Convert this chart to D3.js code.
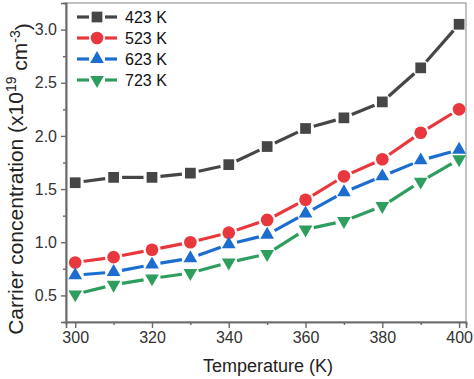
<!DOCTYPE html>
<html>
<head>
<meta charset="utf-8">
<script src="https://cdn.jsdelivr.net/npm/d3@7"></script>
<style>
  body { margin: 0; background: #fff; }
  text { font-family: "Liberation Sans", Arial, sans-serif; }
</style>
</head>
<body>
<div id="chart"></div>
<script>
// temperatures on the x axis
var temps = [300, 310, 320, 330, 340, 350, 360, 370, 380, 390, 400];

// carrier concentration (x10^19 cm^-3), one array per annealing temperature
var n423 = [1.56, 1.61, 1.61, 1.65, 1.73, 1.90, 2.07, 2.17, 2.32, 2.64, 3.05];
var n523 = [0.81, 0.86, 0.93, 1.00, 1.09, 1.21, 1.40, 1.62, 1.78, 2.03, 2.25];
var n623 = [0.69, 0.72, 0.79, 0.85, 0.98, 1.07, 1.27, 1.47, 1.62, 1.77, 1.87];
var n723 = [0.51, 0.60, 0.66, 0.71, 0.81, 0.89, 1.12, 1.20, 1.34, 1.57, 1.78];

var seriesNames = ["423 K", "523 K", "623 K", "723 K"];
var xTicks = [300, 320, 340, 360, 380, 400];
var yTicks = [0.5, 1.0, 1.5, 2.0, 2.5, 3.0];

var svgWidth = 474;
var svgHeight = 379;

var margin = { top: 3, right: 8, bottom: 57, left: 66 };
var width = svgWidth - margin.left - margin.right;
var height = svgHeight - margin.top - margin.bottom;

var svg = d3.select("#chart")
  .append("svg")
  .attr("width", svgWidth)
  .attr("height", svgHeight);

var chartGroup = svg.append("g")
  .attr("transform", `translate(${margin.left}, ${margin.top})`);

var xScale = d3.scaleLinear().domain([297.6, 401.8]).range([0, width]);
var yScale = d3.scaleLinear().domain([0.25, 3.25]).range([height, 0]);

var series = [
  { name: seriesNames[0], values: n423, color: "#464646", symbol: d3.symbolSquare, size: 115, rot: 0 },
  { name: seriesNames[1], values: n523, color: "#e8383d", symbol: d3.symbolCircle, size: 125, rot: 0 },
  { name: seriesNames[2], values: n623, color: "#1c6dd0", symbol: d3.symbolTriangle, size: 82, rot: 0 },
  { name: seriesNames[3], values: n723, color: "#2e9e5e", symbol: d3.symbolTriangle, size: 82, rot: 180 }
];

// frame (top / right)
chartGroup.append("rect")
  .attr("x", 0).attr("y", 0)
  .attr("width", width).attr("height", height)
  .attr("fill", "none")
  .attr("stroke", "#9a9a9a")
  .attr("stroke-width", 1.2);

// axes
var bottomAxis = d3.axisBottom(xScale).tickValues(xTicks).tickSize(6).tickPadding(4).tickFormat(d3.format("d"));
var leftAxis = d3.axisLeft(yScale).tickValues(yTicks).tickSize(5).tickPadding(4).tickFormat(d3.format(".1f"));

var minorX = d3.axisBottom(xScale).tickValues([310, 330, 350, 370, 390]).tickSize(3).tickFormat("");
var minorY = d3.axisLeft(yScale).tickValues([0.75, 1.25, 1.75, 2.25, 2.75]).tickSize(3).tickFormat("");

function styleAxis(g) {
  g.select(".domain").attr("stroke", "#6a6a6a").attr("stroke-width", 1.6);
  g.selectAll(".tick line").attr("stroke", "#6a6a6a").attr("stroke-width", 1.4);
  g.selectAll(".tick text").attr("fill", "#333").attr("font-size", "16px");
}

chartGroup.append("g").attr("transform", `translate(0, ${height})`).call(minorX).call(styleAxis);
chartGroup.append("g").call(minorY).call(styleAxis);
chartGroup.append("g").attr("transform", `translate(0, ${height})`).call(bottomAxis).call(styleAxis);
chartGroup.append("g").call(leftAxis).call(styleAxis);

// lines drawn segment by segment with a small gap at each marker
var gap = 8.5;
series.forEach(function(s) {
  var pts = temps.map((t, i) => [xScale(t), yScale(s.values[i])]);
  var segs = [];
  for (var i = 0; i < pts.length - 1; i++) {
    var dx = pts[i + 1][0] - pts[i][0], dy = pts[i + 1][1] - pts[i][1];
    var len = Math.sqrt(dx * dx + dy * dy);
    var ux = dx / len, uy = dy / len;
    segs.push([pts[i][0] + ux * gap, pts[i][1] + uy * gap,
               pts[i + 1][0] - ux * gap, pts[i + 1][1] - uy * gap]);
  }
  chartGroup.append("g").selectAll("line")
    .data(segs)
    .enter()
    .append("line")
    .attr("x1", d => d[0]).attr("y1", d => d[1])
    .attr("x2", d => d[2]).attr("y2", d => d[3])
    .attr("stroke", s.color)
    .attr("stroke-width", 3.2);

  chartGroup.append("g").selectAll("path")
    .data(pts)
    .enter()
    .append("path")
    .attr("d", d3.symbol().type(s.symbol).size(s.size))
    .attr("transform", d => `translate(${d[0]}, ${d[1]}) rotate(${s.rot})`)
    .attr("fill", s.color);
});

// legend
var legend = svg.append("g").attr("transform", "translate(77, 17)");
series.forEach(function(s, i) {
  var row = legend.append("g").attr("transform", `translate(0, ${i * 21})`);
  row.append("line").attr("x1", 0).attr("x2", 12).attr("y1", 0).attr("y2", 0)
    .attr("stroke", s.color).attr("stroke-width", 3.2);
  row.append("line").attr("x1", 28).attr("x2", 40).attr("y1", 0).attr("y2", 0)
    .attr("stroke", s.color).attr("stroke-width", 3.2);
  row.append("path")
    .attr("d", d3.symbol().type(s.symbol).size(s.size))
    .attr("transform", `translate(20, 0) rotate(${s.rot})`)
    .attr("fill", s.color);
  row.append("text")
    .attr("x", 48).attr("y", 0)
    .attr("dy", "0.36em")
    .attr("font-size", "16px")
    .attr("fill", "#111")
    .text(s.name);
});

// axis labels
svg.append("text")
  .attr("x", margin.left + width / 2 + 2)
  .attr("y", 372)
  .attr("text-anchor", "middle")
  .attr("font-size", "18px")
  .attr("fill", "#222")
  .text("Temperature (K)");

var yLabel = svg.append("text")
  .attr("transform", "translate(23, 179) rotate(-90)")
  .attr("text-anchor", "middle")
  .attr("font-size", "21px")
  .attr("fill", "#222");
yLabel.append("tspan").text("Carrier concentration (x10");
yLabel.append("tspan").attr("dy", "-0.5em").attr("font-size", "14px").text("19");
yLabel.append("tspan").attr("dy", "0.5em").text(" cm");
yLabel.append("tspan").attr("dy", "-0.5em").attr("font-size", "14px").text("-3");
yLabel.append("tspan").attr("dy", "0.5em").text(")");
</script>
</body>
</html>
